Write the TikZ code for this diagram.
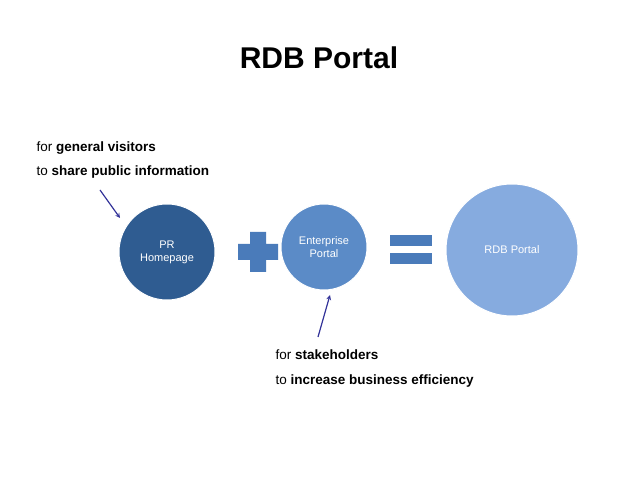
\documentclass[tikz,border=0pt]{standalone}
\usepackage{fontspec}
\setmainfont{Liberation Sans}
\begin{document}
\begin{tikzpicture}[x=1pt,y=-1pt,
  txt/.style={anchor=west,font=\fontsize{13.5}{16}\selectfont},
  circ/.style={circle,draw=white,line width=1pt,inner sep=0pt,text=white,align=center,font=\fontsize{11}{13}\selectfont},
  blk/.style={fill=#1,draw=#1!70!black,line width=0.6pt},
  arr/.style={draw=blue!50!gray!80!black,line width=1.2pt,-stealth}]
\useasboundingbox (0,0) rectangle (638,478);
\definecolor{c1}{HTML}{2F5C91}\definecolor{c2}{HTML}{5B8BC7}\definecolor{c3}{HTML}{86ABDF}\definecolor{cs}{HTML}{4A7BBA}
\node[font=\bfseries\fontsize{30}{34}\selectfont] (title) at (319,58) {RDB Portal};
\node[txt] (t1) at (33,148) {for \textbf{general visitors}};
\node[txt] (t2) at (33,172) {to \textbf{share public information}};
\node[circ,fill=c1,minimum size=96] (pr) at (167,252) {PR\\Homepage};
\node[circ,fill=c2,minimum size=86] (ep) at (324,247) {Enterprise\\Portal};
\node[circ,fill=c3,minimum size=132] (rdb) at (512,250) {RDB Portal};
\fill[cs] (250,232) rectangle (266,272) (238,244) rectangle (278,260);
\node[fill=cs,minimum width=42,minimum height=11,inner sep=0pt] (e1) at (411,241) {};
\node[fill=cs,minimum width=42,minimum height=11,inner sep=0pt] (e2) at (411,259) {};
\coordinate (a1) at (100,190);
\coordinate (a2) at (318,337);
\draw[arr] (a1) -- (120,218);
\draw[arr] (a2) -- (330,295);
\node[txt] (t3) at (272,355) {for \textbf{stakeholders}};
\node[txt] (t4) at (272,381) {to \textbf{increase business efficiency}};
\end{tikzpicture}
\end{document}
